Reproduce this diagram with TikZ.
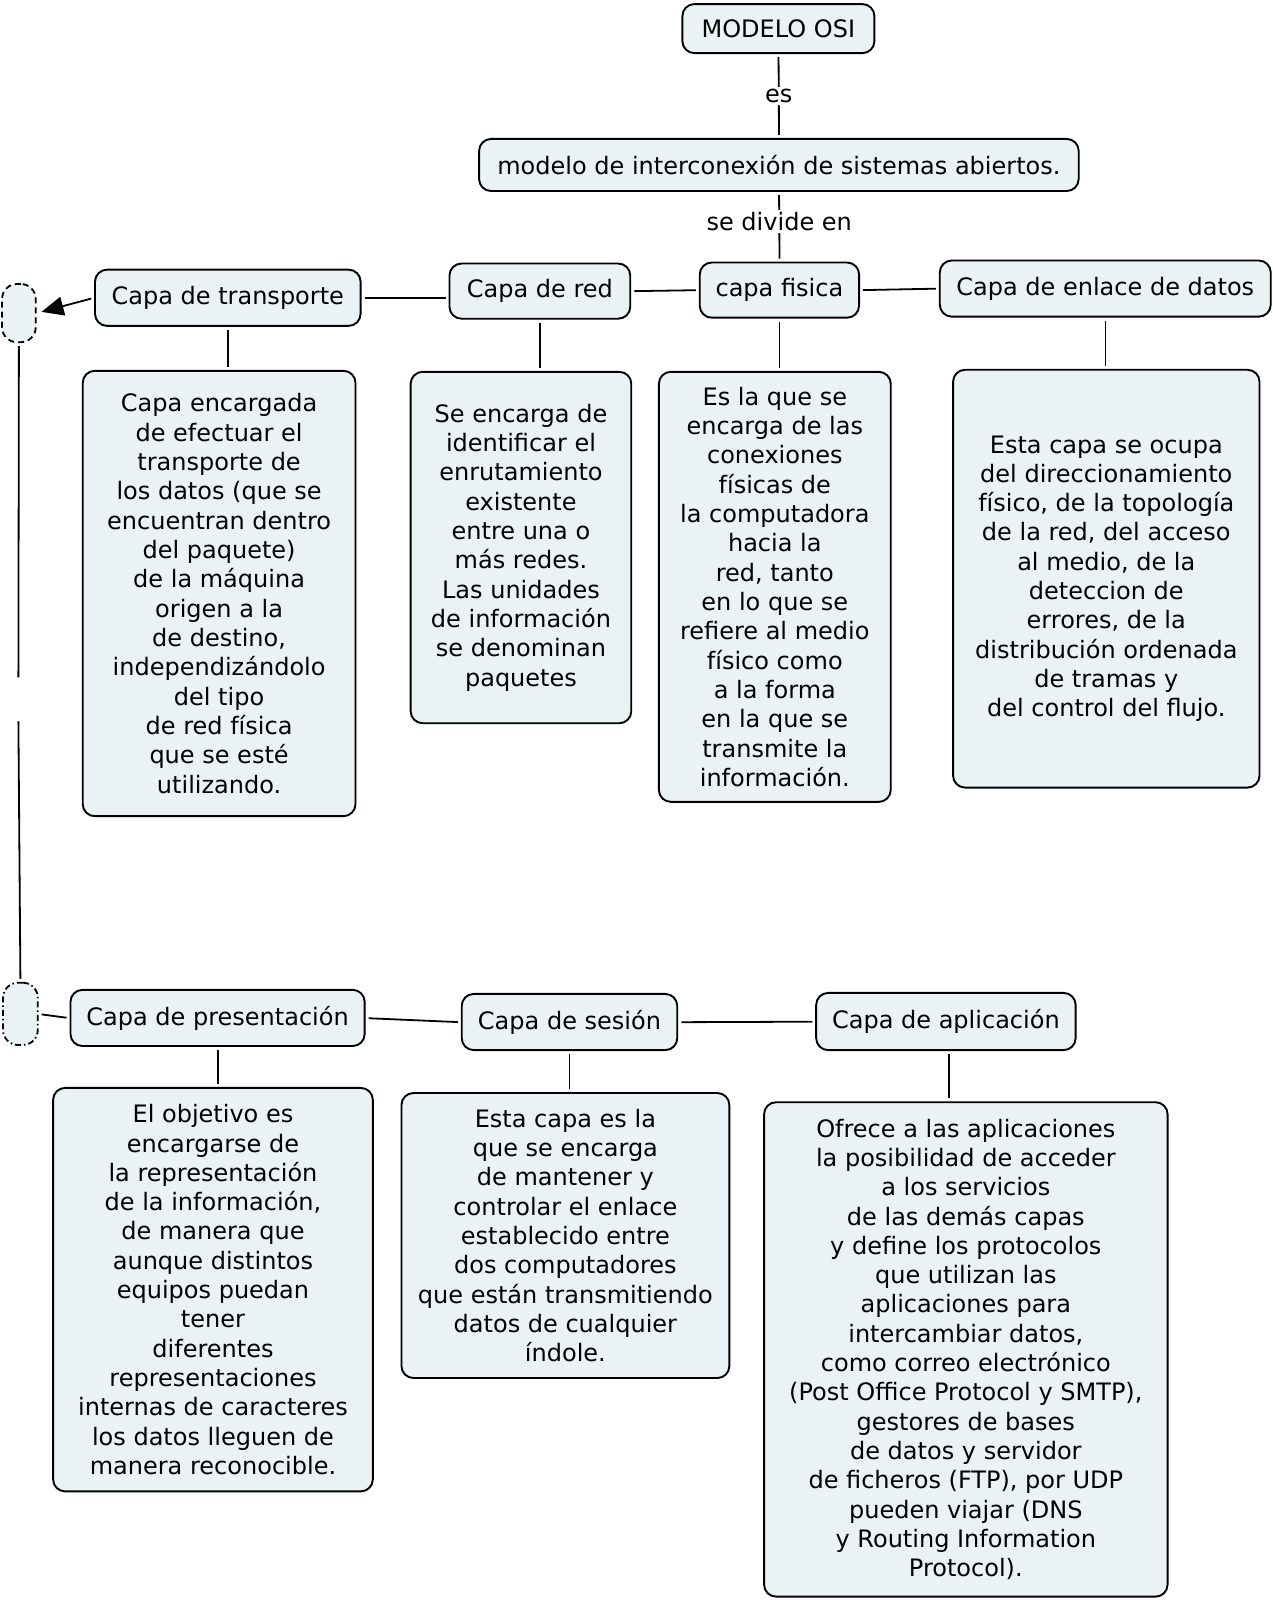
\documentclass[tikz,border=0pt]{standalone}
\usepackage{fontspec}
\setmainfont{DejaVu Sans}
\usetikzlibrary{arrows.meta}
\definecolor{boxfill}{RGB}{234,242,245}
\begin{document}
\begin{tikzpicture}[x=1pt,y=-1pt,
  every node/.style={font=\fontsize{23.5}{28.7}\selectfont},
  concept/.style={draw, line width=1.9pt, rounded corners=12pt, fill=boxfill, align=center, inner sep=0pt},
  ghost/.style={draw, line width=1.8pt, rounded corners=15pt, fill=boxfill, inner sep=0pt},
  link/.style={line width=1.8pt, shorten <=3pt, shorten >=3pt},
  lbl/.style={fill=white, inner sep=2pt}
]
\useasboundingbox (0,0) rectangle (1273,1600);
\begin{scope}[scale=1.0215, transform shape]
% top
\node[concept, minimum width=188pt, minimum height=48pt] (osi) at (762,28) {MODELO OSI};
\node[concept, minimum width=587pt, minimum height=51pt] (mod) at (762.5,161.5) {modelo de interconexión de sistemas abiertos.};

% layer row 1
\node[concept, minimum width=260pt, minimum height=55pt] (trans) at (223,291.5) {Capa de transporte};
\node[concept, minimum width=177pt, minimum height=54pt] (red) at (528.5,285) {Capa de red};
\node[concept, minimum width=156pt, minimum height=54pt] (fis) at (763,284) {capa fisica};
\node[concept, minimum width=324pt, minimum height=55pt] (enl) at (1082,282.5) {Capa de enlace de datos};

% ghost nodes
\node[ghost, dashed, dash pattern=on 6pt off 4pt, minimum width=33pt, minimum height=57pt] (g1) at (18.5,306.5) {};
\node[ghost, dash pattern=on 6pt off 3pt on 1.5pt off 3pt, minimum width=34pt, minimum height=61pt] (g2) at (20,992.5) {};

% descriptions row 1
\node[concept, minimum width=267pt, minimum height=436pt] (dtrans) at (214.5,581) {Capa encargada\\de efectuar el\\transporte de\\los datos (que se\\encuentran dentro\\del paquete)\\de la máquina\\origen a la\\de destino,\\independizándolo\\del tipo\\de red física\\que se esté\\utilizando.};
\node[concept, minimum width=216pt, minimum height=344pt] (dred) at (510,536) {Se encarga de\\identificar el\\enrutamiento\\existente\\entre una o\\más redes.\\Las unidades\\de información\\se denominan\\paquetes};
\node[concept, minimum width=227pt, minimum height=421pt] (dfis) at (758.5,574.5) {Es la que se\\encarga de las\\conexiones\\físicas de\\la computadora\\hacia la\\red, tanto\\en lo que se\\refiere al medio\\físico como\\a la forma\\en la que se\\transmite la\\información.};
\node[concept, minimum width=300pt, minimum height=409pt] (denl) at (1083,566.5) {Esta capa se ocupa\\del direccionamiento\\físico, de la topología\\de la red, del acceso\\al medio, de la\\deteccion de\\errores, de la\\distribución ordenada\\de tramas y\\del control del flujo.};

% layer row 2
\node[concept, minimum width=288pt, minimum height=55pt] (pres) at (213,996.5) {Capa de presentación};
\node[concept, minimum width=211pt, minimum height=55pt] (ses) at (557.5,1000.5) {Capa de sesión};
\node[concept, minimum width=254pt, minimum height=56pt] (apl) at (926,1000) {Capa de aplicación};

% descriptions row 2
\node[concept, minimum width=313pt, minimum height=395pt] (dpres) at (208.5,1262.5) {El objetivo es\\encargarse de\\la representación\\de la información,\\de manera que\\aunque distintos\\equipos puedan\\tener\\diferentes\\representaciones\\internas de caracteres\\los datos lleguen de\\manera reconocible.};
\node[concept, minimum width=321pt, minimum height=279pt] (dses) at (553.5,1209.5) {Esta capa es la\\que se encarga\\de mantener y\\controlar el enlace\\establecido entre\\dos computadores\\que están transmitiendo\\datos de cualquier\\índole.};
\node[concept, minimum width=395pt, minimum height=484pt] (dapl) at (945.5,1321) {Ofrece a las aplicaciones\\la posibilidad de acceder\\a los servicios\\de las demás capas\\y define los protocolos\\que utilizan las\\aplicaciones para\\intercambiar datos,\\como correo electrónico\\(Post Office Protocol y SMTP),\\gestores de bases\\de datos y servidor\\de ficheros (FTP), por UDP\\pueden viajar (DNS\\y Routing Information\\Protocol).};

% connectors
\draw[link] (osi.south) -- node[lbl] {es} (mod.north);
\draw[link] (mod.south) -- node[lbl, pos=0.42] {se divide en} (fis.north);

\draw[link, shorten >=5pt, -{Triangle[length=22pt,width=19pt]}] (trans.west) -- (g1.east);
\draw[link] (trans.east) -- (trans.east -| red.west);
\draw[link] (red.east) -- (fis.west);
\draw[link] (fis.east) -- (enl.west);

\draw[link] (trans.south) -- (trans.south |- dtrans.north);
\draw[link] (red.south) -- (red.south |- dred.north);
\draw[link] (fis.south) -- (fis.south |- dfis.north);
\draw[link] (enl.south) -- (enl.south |- denl.north);

\coordinate (gapA) at (18,663);
\coordinate (gapB) at (18,706);
\draw[link, shorten >=0pt] (g1.south) -- (gapA);
\draw[link, shorten <=0pt] (gapB) -- (g2.north);

\draw[link] (g2.east) -- (pres.west);
\draw[link] (pres.east) -- (ses.west);
\draw[link] (ses.east) -- (apl.west);

\draw[link] (pres.south) -- (pres.south |- dpres.north);
\draw[link] (ses.south) -- (ses.south |- dses.north);
\draw[link] ([xshift=3pt]apl.south) -- ([xshift=3pt]apl.south |- dapl.north);
\end{scope}
\end{tikzpicture}
\end{document}
